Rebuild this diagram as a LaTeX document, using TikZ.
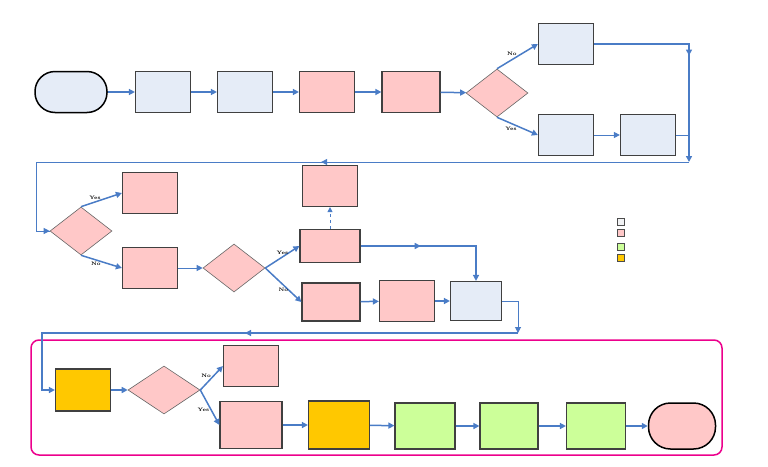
\documentclass[tikz,border=0pt]{standalone}
\usepackage{tikz}
\usetikzlibrary{arrows.meta, shapes.geometric, decorations.markings}

\definecolor{flowblue}{HTML}{E5ECF7}
\definecolor{flowpink}{HTML}{FFC8C8}
\definecolor{flowgreen}{HTML}{CCFF99}
\definecolor{flowgold}{HTML}{FFC800}
\definecolor{wire}{HTML}{4A7CC6}

\tikzset{
  box/.style={draw=black!75, line width=1.2pt, minimum width=#1, inner sep=0pt},
  blu/.style={box=55pt, fill=flowblue, minimum height=41pt},
  pnk/.style={box=55pt, fill=flowpink, minimum height=41pt},
  grn/.style={box=60pt, fill=flowgreen, minimum height=46pt},
  gld/.style={box=58pt, fill=flowgold, minimum height=42pt},
  dec/.style={diamond, draw=black!60, line width=0.6pt, fill=flowpink, aspect=1.3, minimum width=62pt, minimum height=48pt, inner sep=0pt},
  term/.style={draw=black, line width=1.5pt, rounded corners=20pt, minimum width=72pt, minimum height=41pt},
  flow/.style={draw=wire, line width=1.5pt, -{Triangle[length=6pt,width=6pt]}},
  thin/.style={draw=wire, line width=1pt},
  mid/.style={postaction={decorate}, decoration={markings, mark=at position #1 with {\arrow[wire]{Triangle[length=6pt,width=6pt]}}}},
  lab/.style={font=\bfseries\fontsize{5}{5}\selectfont, inner sep=1pt},
  key/.style={draw=black!70, line width=0.8pt, minimum size=7pt, inner sep=0pt}
}

\begin{document}
\begin{tikzpicture}[x=1pt, y=-1pt]
    \useasboundingbox (0,0) rectangle (768,466);

    % Row one
    \node[term, fill=flowblue] (start) at (71,92) {};
    \node[blu] (b1) at (163,92) {};
    \node[blu] (b2) at (245,92) {};
    \node[pnk] (p1) at (327,92) {};
    \node[pnk, minimum width=58pt] (p2) at (411,92) {};
    \node[dec] (d1) at (497,93) {};
    \node[blu] (b3) at (566,44) {};
    \node[blu] (b4) at (566,135) {};
    \node[blu] (b5) at (648,135) {};
    \coordinate (rr) at (689,44);
    \coordinate (rd) at (689,162);
    \coordinate (ld) at (36,162);

    \draw[flow] (start) -- (b1);
    \draw[flow] (b1) -- (b2);
    \draw[flow] (b2) -- (p1);
    \draw[flow] (p1) -- (p2);
    \draw[flow] (p2) -- (d1);
    \draw[flow] (d1.north) -- node[lab, above left=-1pt] {No} (b3.west);
    \draw[flow] (d1.south) -- node[lab, below left=-1pt] {Yes} (b4.west);
    \draw[thin, -{Triangle[length=6pt,width=6pt]}] (b4) -- (b5);
    \draw[thin] (b5.east) -- (b5.east -| rr);
    \draw[flow, mid=0.5] (b3.east) -- (rr) -- (rd);

    % Row two
    \node[dec] (d2) at (81,231) {};
    \node[pnk] (p3) at (150,193) {};
    \node[pnk] (p4) at (150,268) {};
    \node[dec] (d3) at (234,268) {};
    \node[pnk, minimum width=60pt, minimum height=33pt] (p5) at (330,246) {};
    \node[pnk] (p7) at (330,186) {};
    \node[pnk, minimum width=58pt, minimum height=38pt] (p6) at (331,302) {};
    \node[pnk] (p8) at (407,301) {};
    \node[blu, minimum width=51pt, minimum height=39pt] (b6) at (476,301) {};
    \coordinate (sd) at (518,333);
    \coordinate (sl) at (42,333);

    \draw[thin, mid=0.5] (rd) -- (ld) -- (ld |- d2.west) -- (d2.west);
    \draw[thin, -{Triangle[length=6pt,width=6pt]}] (ld |- d2.west) -- (d2.west);
    \draw[flow] (d2.north) -- node[lab, above left=-1pt] {Yes} (p3.west);
    \draw[flow] (d2.south) -- node[lab, below left=-1pt] {No} (p4.west);
    \draw[thin, -{Triangle[length=6pt,width=6pt]}] (p4) -- (d3);
    \draw[flow] (d3.east) -- node[lab, above=1pt] {Yes} (p5.west);
    \draw[flow] (d3.east) -- node[lab, below=1pt] {No} (p6.west);
    \draw[thin, dashed, -{Triangle[length=5pt,width=5pt]}] (p5) -- (p7);
    \draw[flow, mid=0.4] (p5.east) -- (p5.east -| b6.north) -- (b6.north);
    \draw[flow] (p6) -- (p8);
    \draw[flow] (p8) -- (b6);
    \draw[thin, -{Triangle[length=6pt,width=6pt]}] (b6.east) -- (b6.east -| sd) -- (sd);

    % Legend
    \node[key, fill=flowblue!80!black!20] (k1) at (621,222) {};
    \node[key, fill=flowpink] (k2) at (621,233) {};
    \node[key, fill=flowgreen] (k3) at (621,247) {};
    \node[key, fill=flowgold] (k4) at (621,258) {};

    % Row three in frame
    \draw[magenta, line width=1.5pt, rounded corners=8pt] (31,340) rectangle (722,455);
    \node[gld, minimum width=55pt] (y1) at (83,390) {};
    \node[dec, minimum width=72pt] (d4) at (164,390) {};
    \node[pnk] (p9) at (251,366) {};
    \node[pnk, minimum width=62pt, minimum height=47pt] (p10) at (251,425) {};
    \node[gld, minimum width=61pt, minimum height=48pt] (y2) at (339,425) {};
    \node[grn] (g1) at (425,426) {};
    \node[grn, minimum width=58pt] (g2) at (509,426) {};
    \node[grn, minimum width=59pt] (g3) at (596,426) {};
    \node[term, fill=flowpink, minimum width=67pt, minimum height=46pt, rounded corners=22pt] (stop) at (682,426) {};

    \draw[flow, mid=0.5] (sd) -- (sl) -- (sl |- y1.west) -- (y1.west);
    \draw[flow] (y1) -- (d4);
    \draw[flow] (d4.east) -- node[lab, above left=-1pt] {No} (p9.west);
    \draw[flow] (d4.east) -- node[lab, below left=-1pt] {Yes} (p10.west);
    \draw[flow] (p10) -- (y2);
    \draw[flow] (y2) -- (g1);
    \draw[flow] (g1) -- (g2);
    \draw[flow] (g2) -- (g3);
    \draw[flow] (g3) -- (stop);
\end{tikzpicture}
\end{document}
